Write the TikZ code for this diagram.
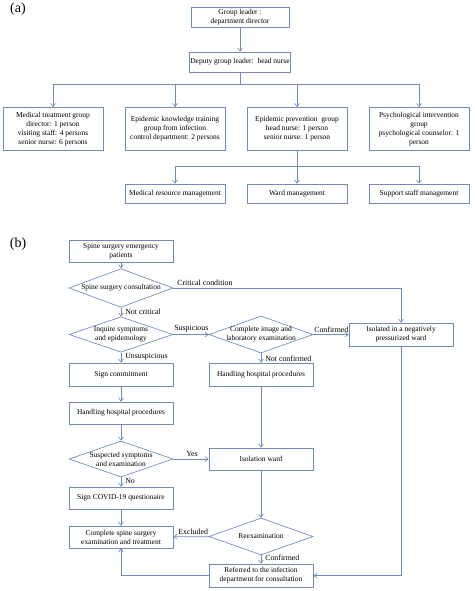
\documentclass[tikz,border=0pt]{standalone}
\usepackage{fontspec}
\setmainfont{Liberation Serif}
\usetikzlibrary{arrows.meta,shapes.geometric}
\definecolor{lineblue}{RGB}{112,140,188}
\tikzset{
  box/.style={draw=lineblue,line width=0.5pt,align=center,inner sep=0.75pt,
    minimum width=75pt,minimum height=15pt,font=\fontsize{5.6}{6.8}\selectfont},
  dia/.style={draw=lineblue,line width=0.5pt,diamond,inner sep=0pt,
    minimum width=78pt,minimum height=27.75pt},
  txt/.style={align=center,inner sep=0.75pt,font=\fontsize{5.6}{6.8}\selectfont},
  lbl/.style={inner sep=0.75pt,font=\fontsize{5.9}{7}\selectfont},
  arr/.style={draw=lineblue,line width=0.5pt,-{Straight Barb[length=2.4pt,width=3.6pt]}},
  ln/.style={draw=lineblue,line width=0.5pt},
}
\begin{document}
\begin{tikzpicture}[x=0.75pt,y=0.75pt,yscale=-1,xscale=1]
\useasboundingbox (0,0) rectangle (474,591);

% Text Node
\draw (18,9.5) node [inner sep=0.75pt,font=\fontsize{10.5}{12}\selectfont] (la) {(a)};
% Text Node
\draw (18,244.5) node [inner sep=0.75pt,font=\fontsize{10.5}{12}\selectfont] (lb) {(b)};

%Shape: Rectangle [group leaders]
\node [box,minimum width=73.5pt] (lead) at (240,17) {Group leader\ :\\department director};
\node [box] (dep) at (240,62) {Deputy group leader:\ \ head nurse};
%Shape: Rectangle [groups]
\node [box,minimum height=32.25pt] (g1) at (53,129) {Medical treatment group\\director: 1 person\\visiting staff: 4 persons\\senior nurse: 6 persons};
\node [box,minimum height=32.25pt] (g2) at (175,129) {Epidemic knowledge training\\group from infection\\control department: 2 persons};
\node [box,minimum height=32.25pt] (g3) at (297,129) {Epidemic prevention\ \ group\\head nurse: 1 person\\senior nurse: 1 person};
\node [box,minimum height=32.25pt] (g4) at (419,129) {Psychological intervention\\group\\psychological counselor: 1\\person};
%Shape: Rectangle [managements]
\node [box,minimum height=14.25pt] (m1) at (175,193.5) {Medical resource management};
\node [box,minimum height=14.25pt] (m2) at (297,193.5) {Ward management};
\node [box,minimum height=14.25pt] (m3) at (419,193.5) {Support staff management};

%Straight Lines [org chart]
\draw [arr] (lead) -- (dep);
\coordinate (bus) at (240,84);
\draw [ln] (dep.south) -- (bus);
\draw [arr] (bus) -| (g1.north);
\draw [arr] (bus) -| (g2.north);
\draw [arr] (bus) -| (g3.north);
\draw [arr] (bus) -| (g4.north);
\coordinate (bus2) at (297,166);
\draw [ln] (g3.south) -- (bus2);
\draw [arr] (bus2) -| (m1.north);
\draw [arr] (bus2) -- (m2.north);
\draw [arr] (bus2) -| (m3.north);

%Shape: Rectangle [flow boxes]
\node [box,minimum width=78pt,minimum height=16.5pt] (p0) at (121,251) {Spine surgery emergency\\patients};
\node [box,minimum width=78pt,minimum height=17.25pt] (iso) at (401,334.5) {Isolated in a negatively\\pressurized ward};
\node [box,minimum width=78pt,minimum height=17.25pt] (p1) at (121,374.5) {Sign commitment};
\node [box,minimum width=78pt,minimum height=17.25pt] (p2) at (261,374.5) {Handling hospital procedures};
\node [box,minimum width=78pt,minimum height=16.5pt] (p3) at (121,413) {Handling hospital procedures};
\node [box,minimum width=78pt,minimum height=16.5pt] (p4) at (261,459) {Isolation ward};
\node [box,minimum width=78pt,minimum height=16.5pt] (p5) at (121,498) {Sign COVID-19 questionaire};
\node [box,minimum width=78pt,minimum height=16.5pt] (p6) at (121,537) {Complete spine surgery\\examination and treatment};
\node [box,minimum width=78pt,minimum height=17.25pt] (p7) at (261,575.5) {Referred to the infection\\department for consultation};

%Shape: Diamond [decisions]
\node [dia,minimum height=29pt] (d1) at (121,288) {};
\node [txt] (d1t) at (d1) {Spine surgery consultation};
\node [dia,minimum height=26.5pt] (d2) at (121,334.5) {};
\node [txt] (d2t) at (d2) {Inquire symptoms\\and epidemology};
\node [dia] (d3) at (261,334.5) {};
\node [txt] (d3t) at (d3) {Complete image and\\laboratory examination};
\node [dia,minimum height=27pt] (d4) at (121,459) {};
\node [txt] (d4t) at (d4) {Suspected symptoms\\and examination};
\node [dia] (d5) at (261,536.5) {};
\node [txt] (d5t) at (d5) {Reexamination};

%Straight Lines [flow]
\draw [arr] (p0) -- (d1);
\draw [arr] (d1.east) -| (iso.north);
\draw [arr] (d1) -- (d2);
\draw [arr] (d2) -- (d3);
\draw [arr] (d3) -- (iso);
\draw [arr] (d3) -- (p2);
\draw [arr] (d2) -- (p1);
\draw [arr] (p1) -- (p3);
\draw [arr] (p3) -- (d4);
\draw [arr] (d4) -- (p4);
\draw [arr] (d4) -- (p5);
\draw [arr] (p5) -- (p6);
\draw [arr] (p2) -- (p4);
\draw [arr] (p4) -- (d5);
\draw [arr] (d5) -- (p6);
\draw [arr] (d5) -- (p7);
\draw [arr] (iso.south) |- (p7.east);
\draw [arr] (p7.west) -| (p6.south);

% Text Node
\draw (176,287) node [lbl,anchor=south west] (c1) {Critical condition};
% Text Node
\draw (124,312) node [lbl,anchor=west] (c2) {Not critical};
% Text Node
\draw (173,333.5) node [lbl,anchor=south west] (c3) {Suspicious};
% Text Node
\draw (124,357) node [lbl,anchor=west] (c4) {Unsuspicious};
% Text Node
\draw (313,334) node [lbl,anchor=south west] (c5) {Confirmed};
% Text Node
\draw (264,359) node [lbl,anchor=west] (c6) {Not confirmed};
% Text Node
\draw (185,458) node [lbl,anchor=south west] (c7) {Yes};
% Text Node
\draw (124,481) node [lbl,anchor=west] (c8) {No};
% Text Node
\draw (177,535.5) node [lbl,anchor=south west] (c9) {Excluded};
% Text Node
\draw (264,558) node [lbl,anchor=west] (c10) {Confirmed};

\end{tikzpicture}
\end{document}
